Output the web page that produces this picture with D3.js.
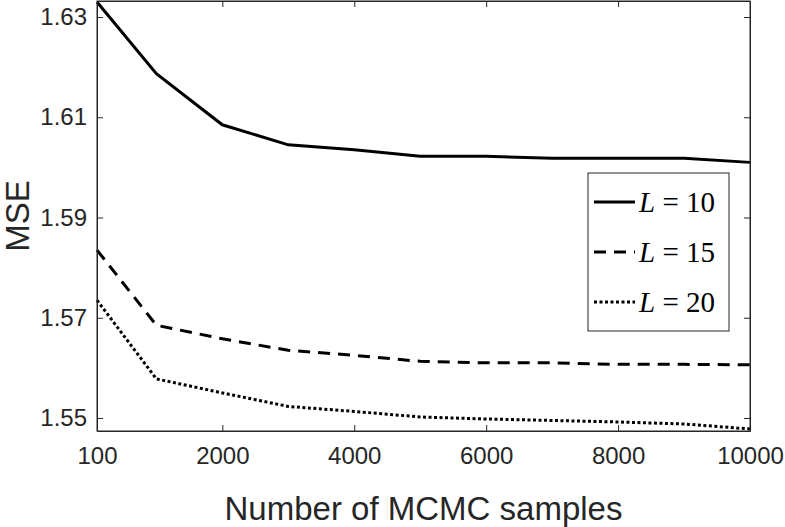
<!DOCTYPE html>
<html><head><meta charset="utf-8">
<script src="https://cdn.jsdelivr.net/npm/d3@7"></script>
<style>body{margin:0;background:#fff;} text{font-family:"Liberation Sans",Arial,sans-serif;}</style>
</head><body><div id="chart"></div>
<script>
const samples = [100, 1000, 2000, 3000, 4000, 5000, 6000, 7000, 8000, 9000, 10000];
const mseL10 = [1.6330, 1.6187, 1.6085, 1.6045, 1.6035, 1.6022, 1.6022, 1.6018, 1.6018, 1.6018, 1.6010];
const mseL15 = [1.5835, 1.5685, 1.5658, 1.5635, 1.5625, 1.5613, 1.5610, 1.5610, 1.5607, 1.5607, 1.5606];
const mseL20 = [1.5735, 1.5578, 1.5550, 1.5523, 1.5513, 1.5502, 1.5498, 1.5495, 1.5492, 1.5488, 1.5478];
const seriesNames = ["10", "15", "20"];
const xTicks = [100, 2000, 4000, 6000, 8000, 10000];
const yTicks = [1.55, 1.57, 1.59, 1.61, 1.63];

const width = 785, height = 527;
const margin = { top: 1, right: 35, bottom: 96, left: 97 };

const svg = d3.select("#chart").append("svg")
  .attr("width", width).attr("height", height);

const x = d3.scaleLinear().domain([100, 10000]).range([margin.left, width - margin.right]);
const y = d3.scaleLinear().domain([1.5474, 1.6332]).range([height - margin.bottom, margin.top]);

const series = [
  { name: seriesNames[0], values: mseL10, dash: null, w: 3 },
  { name: seriesNames[1], values: mseL15, dash: "12,8", w: 3 },
  { name: seriesNames[2], values: mseL20, dash: "3,2.5", w: 3 }
];

const line = d3.line().x((d, i) => x(samples[i])).y(d => y(d));

series.forEach(s => {
  svg.append("path")
    .attr("fill", "none").attr("stroke", "#000")
    .attr("stroke-width", s.w)
    .attr("stroke-dasharray", s.dash)
    .attr("d", line(s.values));
});

// frame
svg.append("rect")
  .attr("x", margin.left).attr("y", margin.top)
  .attr("width", x(10000) - x(100)).attr("height", y(1.5474) - y(1.6332))
  .attr("fill", "none").attr("stroke", "#262626").attr("stroke-width", 1);

const xAxis = svg.append("g")
  .attr("transform", `translate(0,${height - margin.bottom})`)
  .call(d3.axisBottom(x).tickValues(xTicks).tickSizeInner(-6).tickSizeOuter(0).tickPadding(16).tickFormat(d3.format("d")));
const yAxis = svg.append("g")
  .attr("transform", `translate(${margin.left},0)`)
  .call(d3.axisLeft(y).tickValues(yTicks).tickSizeInner(-6).tickSizeOuter(0).tickPadding(10).tickFormat(d3.format(".2f")));
const xAxisTop = svg.append("g")
  .attr("transform", `translate(0,${margin.top})`)
  .call(d3.axisTop(x).tickValues(xTicks).tickSizeInner(-6).tickSizeOuter(0).tickFormat(""));
const yAxisR = svg.append("g")
  .attr("transform", `translate(${width - margin.right},0)`)
  .call(d3.axisRight(y).tickValues(yTicks).tickSizeInner(-6).tickSizeOuter(0).tickFormat(""));
[xAxis, yAxis, xAxisTop, yAxisR].forEach(a => {
  a.select(".domain").attr("stroke", "#262626");
  a.selectAll("line").attr("stroke", "#262626");
  a.selectAll("text").attr("fill", "#262626").style("font-size", "24px")
    .style("font-family", "'Liberation Sans', Arial, sans-serif");
});

svg.append("text")
  .attr("x", (margin.left + width - margin.right) / 2).attr("y", 520)
  .attr("text-anchor", "middle").attr("fill", "#262626")
  .style("font-size", "33px").text("Number of MCMC samples");
svg.append("text")
  .attr("transform", `translate(29,${(margin.top + height - margin.bottom) / 2}) rotate(-90)`)
  .attr("text-anchor", "middle").attr("fill", "#262626")
  .style("font-size", "33px").text("MSE");

// legend
const legend = svg.append("g").attr("transform", "translate(588,173)");
legend.append("rect").attr("width", 141).attr("height", 158)
  .attr("fill", "#fff").attr("stroke", "#262626").attr("stroke-width", 1);
series.forEach((s, i) => {
  const g = legend.append("g").attr("transform", `translate(0,${29 + i * 50})`);
  g.append("line").attr("x1", 6).attr("x2", 47).attr("y1", 0).attr("y2", 0)
    .attr("stroke", "#000").attr("stroke-width", s.w).attr("stroke-dasharray", s.dash);
  const t = g.append("text").attr("x", 51).attr("y", 10)
    .style("font-family", "'Liberation Serif','DejaVu Serif',serif").style("font-size", "29px");
  t.append("tspan").style("font-style", "italic").text("L");
  t.append("tspan").text(" = " + s.name);
});
</script></body></html>
